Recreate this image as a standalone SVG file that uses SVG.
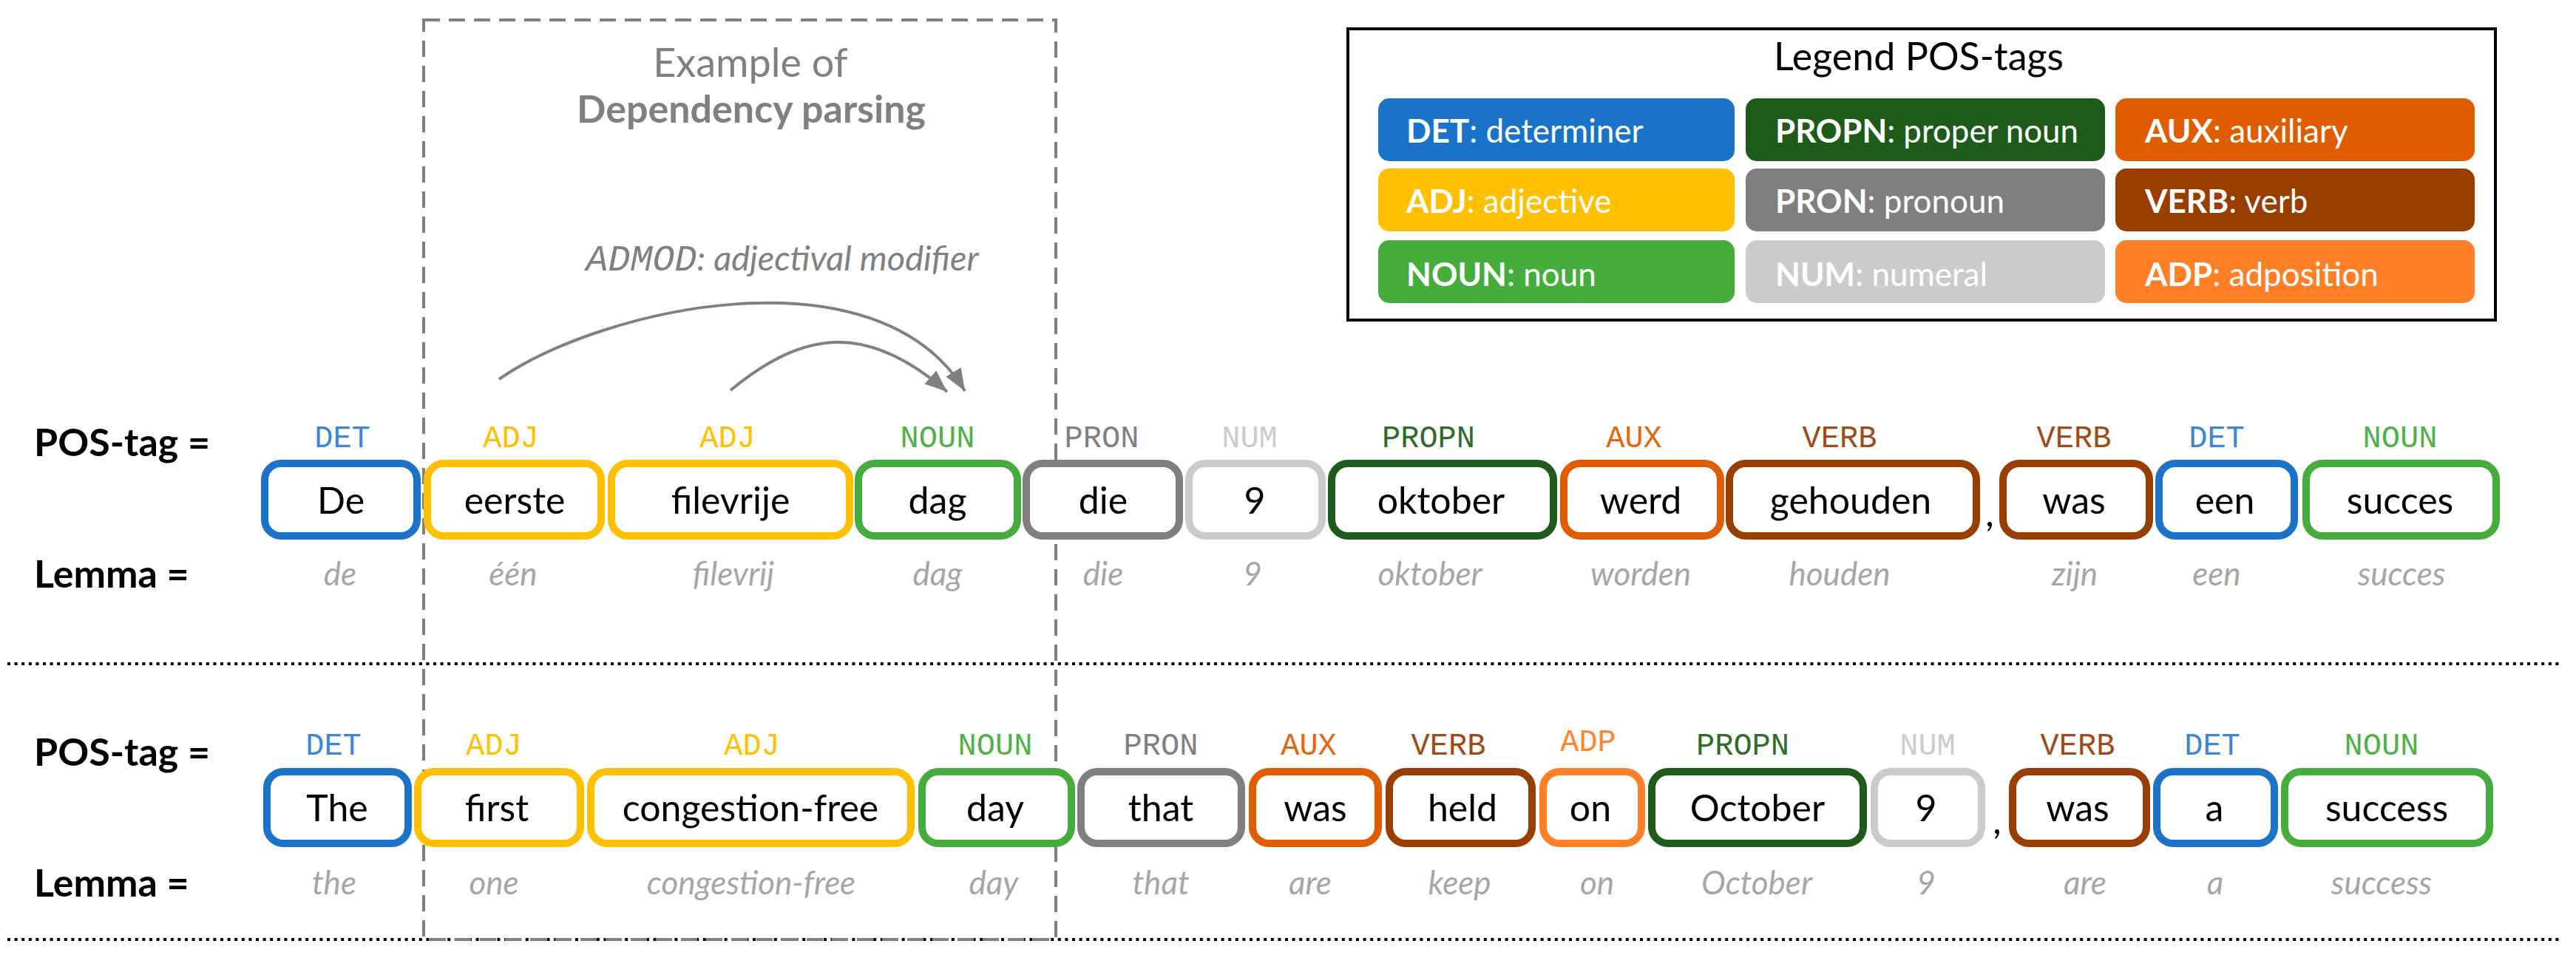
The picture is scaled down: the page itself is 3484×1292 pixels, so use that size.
<svg xmlns="http://www.w3.org/2000/svg" width="3484" height="1292" viewBox="0 0 3484 1292">
<style>
.bx{fill:#fff;stroke-width:10}
.w{font-family:Lato,'Open Sans',sans-serif;font-size:50px;fill:#000;text-anchor:middle}
.lm{font-family:Lato,'Open Sans',sans-serif;font-size:44px;font-style:italic;fill:#a6a6a6;text-anchor:middle}
.tg{font-family:'Liberation Mono',monospace;font-size:42px;text-anchor:middle}
.lab{font-family:Lato,'Open Sans',sans-serif;font-size:52px;font-weight:bold;fill:#000}
.lg{font-family:Lato,'Open Sans',sans-serif;font-size:44px;fill:#fff}
.lg tspan.b{font-weight:bold}
.det{stroke:#1a72c9}.adj{stroke:#ffc000}.noun{stroke:#45ad3b}.pron{stroke:#7f7f7f}.num{stroke:#cbcbcb}
.propn{stroke:#1e5a19}.aux{stroke:#e05c00}.verb{stroke:#993d00}.adp{stroke:#ff7f27}
.tdet{fill:#3b86d6}.tadj{fill:#ffc000}.tnoun{fill:#4fb146}.tpron{fill:#808080}.tnum{fill:#cccccc}
.tpropn{fill:#2f6c29}.taux{fill:#e5660f}.tverb{fill:#a04a18}.tadp{fill:#ff8533}
.sep{stroke:#000;stroke-width:4;stroke-dasharray:4 5.6;fill:none}
.arc{fill:none;stroke:#808080;stroke-width:4}
</style>
<defs>
<marker id="ah" markerUnits="userSpaceOnUse" markerWidth="34" markerHeight="28" refX="30" refY="12" orient="auto" viewBox="0 0 34 28">
<path d="M0,0 L30,12 L0,24 Z" fill="#808080"/>
</marker>
</defs>

<g id="separators">
<line class="sep" x1="10" y1="898" x2="3466" y2="898"/>
<line class="sep" x1="10" y1="1271" x2="3466" y2="1271"/>
</g>

<g id="example-box">
<rect x="573" y="27" width="855" height="1244" fill="none" stroke="#808080" stroke-width="4" stroke-dasharray="22 12"/>
<text x="1015" y="104" font-family="Lato,'Open Sans',sans-serif" font-size="54" fill="#808080" text-anchor="middle">Example of</text>
<text x="1016" y="166" font-family="Lato,'Open Sans',sans-serif" font-size="52" font-weight="bold" fill="#808080" text-anchor="middle">Dependency parsing</text>
<text x="1058" y="366" font-size="47" fill="#808080" text-anchor="middle" font-style="italic"><tspan font-family="'Liberation Mono',monospace" font-size="50">ADMOD</tspan><tspan font-family="Lato,'Open Sans',sans-serif">: adjectival modifier</tspan></text>
</g>

<g id="connectors">
<path class="arc" d="M675,513 C815,416 1186,333 1305,529" marker-end="url(#ah)"/>
<path class="arc" d="M988,528 C1090,444 1175,438 1281,530" marker-end="url(#ah)"/>
</g>

<g id="legend">
<rect x="1823" y="39" width="1552" height="394" fill="#fff" stroke="#000" stroke-width="4"/>
<text x="2595" y="95" font-family="Lato,'Open Sans',sans-serif" font-size="52" fill="#000" text-anchor="middle">Legend POS-tags</text>
<rect x="1864" y="133" width="482" height="85" rx="15" fill="#1a72c9"/>
<rect x="2361" y="133" width="486" height="85" rx="15" fill="#1e5a19"/>
<rect x="2861" y="133" width="486" height="85" rx="15" fill="#e05c00"/>
<rect x="1864" y="228" width="482" height="85" rx="15" fill="#ffc000"/>
<rect x="2361" y="228" width="486" height="85" rx="15" fill="#7f7f7f"/>
<rect x="2861" y="228" width="486" height="85" rx="15" fill="#993d00"/>
<rect x="1864" y="325" width="482" height="85" rx="15" fill="#45ad3b"/>
<rect x="2361" y="325" width="486" height="85" rx="15" fill="#cbcbcb"/>
<rect x="2861" y="325" width="486" height="85" rx="15" fill="#ff7f27"/>
<text class="lg" x="1902" y="193"><tspan class="b">DET</tspan>: determiner</text>
<text class="lg" x="2401" y="193" textLength="410" lengthAdjust="spacingAndGlyphs"><tspan class="b">PROPN</tspan>: proper noun</text>
<text class="lg" x="2901" y="193"><tspan class="b">AUX</tspan>: auxiliary</text>
<text class="lg" x="1902" y="288"><tspan class="b">ADJ</tspan>: adjective</text>
<text class="lg" x="2401" y="288"><tspan class="b">PRON</tspan>: pronoun</text>
<text class="lg" x="2901" y="288"><tspan class="b">VERB</tspan>: verb</text>
<text class="lg" x="1902" y="387"><tspan class="b">NOUN</tspan>: noun</text>
<text class="lg" x="2401" y="387"><tspan class="b">NUM</tspan>: numeral</text>
<text class="lg" x="2901" y="387"><tspan class="b">ADP</tspan>: adposition</text>
</g>

<g id="row-labels">
<text class="lab" x="46" y="617">POS-tag =</text>
<text class="lab" x="46" y="795">Lemma =</text>
<text class="lab" x="46" y="1036">POS-tag =</text>
<text class="lab" x="46" y="1213">Lemma =</text>
</g>

<!-- Dutch sentence -->
<g id="nl-De"><rect class="bx det" x="358" y="627" width="206" height="98" rx="22"/><text class="tg tdet" x="463" y="605">DET</text><text class="w" x="461" y="695">De</text><text class="lm" x="460" y="792">de</text></g>
<g id="nl-eerste"><rect class="bx adj" x="578" y="627" width="235" height="98" rx="22"/><text class="tg tadj" x="691" y="605">ADJ</text><text class="w" x="696" y="695">eerste</text><text class="lm" x="694" y="792">één</text></g>
<g id="nl-filevrije"><rect class="bx adj" x="827" y="627" width="322" height="98" rx="22"/><text class="tg tadj" x="984" y="605">ADJ</text><text class="w" x="988" y="695">filevrije</text><text class="lm" x="992" y="792">filevrij</text></g>
<g id="nl-dag"><rect class="bx noun" x="1161" y="627" width="215" height="98" rx="22"/><text class="tg tnoun" x="1268" y="605">NOUN</text><text class="w" x="1268" y="695">dag</text><text class="lm" x="1268" y="792">dag</text></g>
<g id="nl-die"><rect class="bx pron" x="1388" y="627" width="207" height="98" rx="22"/><text class="tg tpron" x="1490" y="605">PRON</text><text class="w" x="1492" y="695">die</text><text class="lm" x="1492" y="792">die</text></g>
<g id="nl-9"><rect class="bx num" x="1608" y="627" width="180" height="98" rx="22"/><text class="tg tnum" x="1690" y="605">NUM</text><text class="w" x="1697" y="695">9</text><text class="lm" x="1694" y="792">9</text></g>
<g id="nl-oktober"><rect class="bx propn" x="1801" y="627" width="300" height="98" rx="22"/><text class="tg tpropn" x="1932" y="605">PROPN</text><text class="w" x="1949" y="695">oktober</text><text class="lm" x="1934" y="792">oktober</text></g>
<g id="nl-werd"><rect class="bx aux" x="2115" y="627" width="212" height="98" rx="22"/><text class="tg taux" x="2210" y="605">AUX</text><text class="w" x="2219" y="695">werd</text><text class="lm" x="2219" y="792">worden</text></g>
<g id="nl-gehouden"><rect class="bx verb" x="2339" y="627" width="334" height="98" rx="22"/><text class="tg tverb" x="2488" y="605">VERB</text><text class="w" x="2503" y="695">gehouden</text><text class="lm" x="2488" y="792">houden</text></g>
<text class="w" x="2691" y="712">,</text>
<g id="nl-was"><rect class="bx verb" x="2709" y="627" width="198" height="98" rx="22"/><text class="tg tverb" x="2805" y="605">VERB</text><text class="w" x="2805" y="695">was</text><text class="lm" x="2806" y="792">zijn</text></g>
<g id="nl-een"><rect class="bx det" x="2920" y="627" width="183" height="98" rx="22"/><text class="tg tdet" x="2998" y="605">DET</text><text class="w" x="3009" y="695">een</text><text class="lm" x="2998" y="792">een</text></g>
<g id="nl-succes"><rect class="bx noun" x="3119" y="627" width="257" height="98" rx="22"/><text class="tg tnoun" x="3246" y="605">NOUN</text><text class="w" x="3246" y="695">succes</text><text class="lm" x="3248" y="792">succes</text></g>

<!-- English sentence -->
<g id="en-The"><rect class="bx det" x="361" y="1044" width="191" height="97" rx="22"/><text class="tg tdet" x="451" y="1021">DET</text><text class="w" x="456" y="1111">The</text><text class="lm" x="452" y="1210">the</text></g>
<g id="en-first"><rect class="bx adj" x="565" y="1044" width="220" height="97" rx="22"/><text class="tg tadj" x="668" y="1021">ADJ</text><text class="w" x="672" y="1111">first</text><text class="lm" x="668" y="1210">one</text></g>
<g id="en-congestion-free"><rect class="bx adj" x="799" y="1044" width="433" height="97" rx="22"/><text class="tg tadj" x="1017" y="1021">ADJ</text><text class="w" x="1015" y="1111">congestion-free</text><text class="lm" x="1016" y="1210">congestion-free</text></g>
<g id="en-day"><rect class="bx noun" x="1247" y="1044" width="202" height="97" rx="22"/><text class="tg tnoun" x="1346" y="1021">NOUN</text><text class="w" x="1346" y="1111">day</text><text class="lm" x="1344" y="1210">day</text></g>
<g id="en-that"><rect class="bx pron" x="1462" y="1044" width="217" height="97" rx="22"/><text class="tg tpron" x="1570" y="1021">PRON</text><text class="w" x="1570" y="1111">that</text><text class="lm" x="1570" y="1210">that</text></g>
<g id="en-was1"><rect class="bx aux" x="1694" y="1044" width="170" height="97" rx="22"/><text class="tg taux" x="1770" y="1021">AUX</text><text class="w" x="1779" y="1111">was</text><text class="lm" x="1772" y="1210">are</text></g>
<g id="en-held"><rect class="bx verb" x="1879" y="1044" width="193" height="97" rx="22"/><text class="tg tverb" x="1959" y="1021">VERB</text><text class="w" x="1978" y="1111">held</text><text class="lm" x="1974" y="1210">keep</text></g>
<g id="en-on"><rect class="bx adp" x="2087" y="1044" width="133" height="97" rx="22"/><text class="tg tadp" x="2148" y="1016">ADP</text><text class="w" x="2151" y="1111">on</text><text class="lm" x="2160" y="1210">on</text></g>
<g id="en-October"><rect class="bx propn" x="2234" y="1044" width="286" height="97" rx="22"/><text class="tg tpropn" x="2357" y="1021">PROPN</text><text class="w" x="2377" y="1111">October</text><text class="lm" x="2376" y="1210">October</text></g>
<g id="en-9"><rect class="bx num" x="2535" y="1044" width="145" height="97" rx="22"/><text class="tg tnum" x="2607" y="1021">NUM</text><text class="w" x="2605" y="1111">9</text><text class="lm" x="2605" y="1210">9</text></g>
<text class="w" x="2701" y="1128">,</text>
<g id="en-was2"><rect class="bx verb" x="2722" y="1044" width="181" height="97" rx="22"/><text class="tg tverb" x="2810" y="1021">VERB</text><text class="w" x="2810" y="1111">was</text><text class="lm" x="2820" y="1210">are</text></g>
<g id="en-a"><rect class="bx det" x="2917" y="1044" width="159" height="97" rx="22"/><text class="tg tdet" x="2992" y="1021">DET</text><text class="w" x="2995" y="1111">a</text><text class="lm" x="2996" y="1210">a</text></g>
<g id="en-success"><rect class="bx noun" x="3090" y="1044" width="277" height="97" rx="22"/><text class="tg tnoun" x="3221" y="1021">NOUN</text><text class="w" x="3228" y="1111">success</text><text class="lm" x="3221" y="1210">success</text></g>
</svg>
